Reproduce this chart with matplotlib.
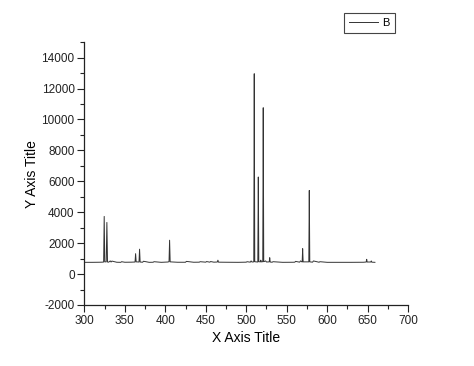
import matplotlib.pyplot as plt
from matplotlib.ticker import MultipleLocator

plt.rcParams['font.family'] = ['Liberation Sans', 'DejaVu Sans']
plt.rcParams['axes.unicode_minus'] = False

# espectro (pontos de base e picos)
comprimento = [300, 310, 318, 322, 323.8, 324.5, 325.2, 327.0, 327.8, 328.6, 330, 332, 333, 334,
               340, 345, 346, 350, 358, 362.6, 363.3, 364.0, 367.5, 368.2, 368.9, 372, 373, 380,
               385, 386, 395, 403, 404.6, 405.3, 406.0, 415, 425, 426, 435, 442, 443, 450, 451,
               455, 456, 460, 464.3, 465, 465.7, 475, 490, 500, 501, 505, 506, 507, 509.3, 509.9,
               510.5, 512, 514.3, 514.9, 515.5, 517.5, 518, 518.5, 520.4, 521.0, 521.6, 524,
               525, 528.4, 529.0, 529.6, 532, 533, 545, 558, 560, 561, 566, 567, 569.1, 569.7,
               570.3, 577.3, 577.9, 578.5, 582, 583, 590, 591, 600, 615, 630, 645, 648.2, 648.8,
               649.4, 653.9, 654.5, 655.1, 659]
intensidade = [760, 760, 765, 770, 780, 3730, 790, 790, 3340, 780, 770, 850, 780, 840,
               765, 760, 800, 765, 770, 780, 1320, 790, 780, 1610, 780, 765, 830, 760,
               765, 800, 760, 780, 800, 2190, 790, 765, 765, 820, 765, 770, 800, 770, 810,
               770, 810, 770, 780, 900, 770, 765, 760, 770, 800, 770, 850, 780, 790, 12960,
               800, 790, 780, 6280, 800, 790, 900, 790, 800, 10760, 800, 850,
               780, 790, 1060, 780, 765, 800, 760, 765, 770, 820, 770, 850, 780, 1645,
               790, 790, 5410, 790, 770, 850, 765, 800, 760, 760, 760, 765, 780, 955,
               780, 780, 850, 770, 760]

fig = plt.figure(figsize=(4.74, 3.66), dpi=100)
ax = fig.add_axes([0.178, 0.1667, 0.683, 0.718])

ax.plot(comprimento, intensidade, color='#333333', linewidth=0.7, label='B')

ax.set_xlim(300, 700)
ax.set_ylim(-2000, 15000)
ax.xaxis.set_major_locator(MultipleLocator(50))
ax.xaxis.set_minor_locator(MultipleLocator(25))
ax.yaxis.set_minor_locator(MultipleLocator(1000))
ax.set_yticks(range(-2000, 15000, 2000))

ax.spines['top'].set_visible(False)
ax.spines['right'].set_visible(False)
for s in ['left', 'bottom']:
    ax.spines[s].set_linewidth(0.9)
    ax.spines[s].set_color('#222222')

ax.tick_params(which='major', direction='out', length=5, width=0.8, labelsize=8.5, pad=2, colors='#222222')
ax.tick_params(which='minor', direction='out', length=3, width=0.8, colors='#222222')

ax.set_xlabel('X Axis Title', fontsize=10, labelpad=3)
ax.set_ylabel('Y Axis Title', fontsize=10, labelpad=2)

leg = ax.legend(loc='center', bbox_to_anchor=(0.7795, 0.9385), bbox_transform=fig.transFigure,
                fontsize=8, frameon=True, fancybox=False, edgecolor='#444444', framealpha=1,
                handlelength=2.6, handletextpad=0.4, borderpad=0.45, borderaxespad=0)
leg.get_frame().set_linewidth(0.8)

plt.savefig('out.png', dpi=100)
plt.close()
